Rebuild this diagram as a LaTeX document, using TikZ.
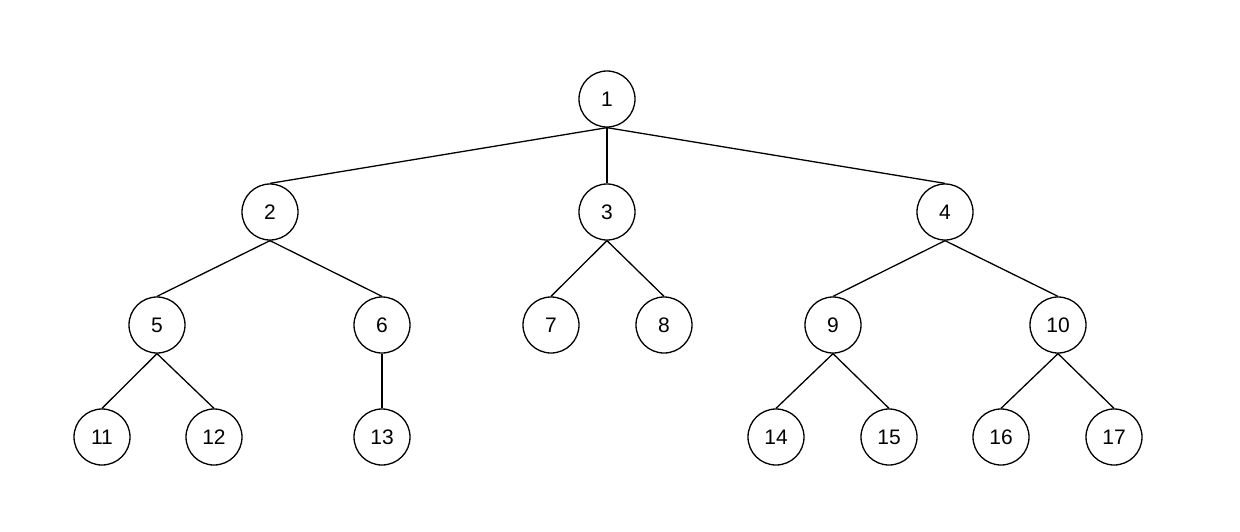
\documentclass[tikz,border=0pt]{standalone}
\usepackage{fontspec}
\setmainfont{Liberation Sans}
\begin{document}
\begin{tikzpicture}[x=1pt,y=-1pt,
  tn/.style={circle,draw,line width=1.3pt,minimum size=56pt,inner sep=0pt,font=\fontsize{21}{21}\selectfont},
  ed/.style={line width=1.3pt}]
\useasboundingbox (0,0) rectangle (1240,531);
\foreach \n/\x/\y in {1/607/99,2/270/212,3/607/212,4/945/212,5/157/325,6/382/325,7/551/325,8/664/325,9/833/325,10/1058/325,11/102/437,12/214/437,13/382/437,14/776/437,15/889/437,16/1001/437,17/1114/437}
  \node[tn] (n\n) at (\x,\y) {\n};
\foreach \a/\b in {1/2,1/3,1/4,2/5,2/6,3/7,3/8,4/9,4/10,5/11,5/12,6/13,9/14,9/15,10/16,10/17}
  \draw[ed] (n\a.south) -- (n\b.north);
\end{tikzpicture}
\end{document}
